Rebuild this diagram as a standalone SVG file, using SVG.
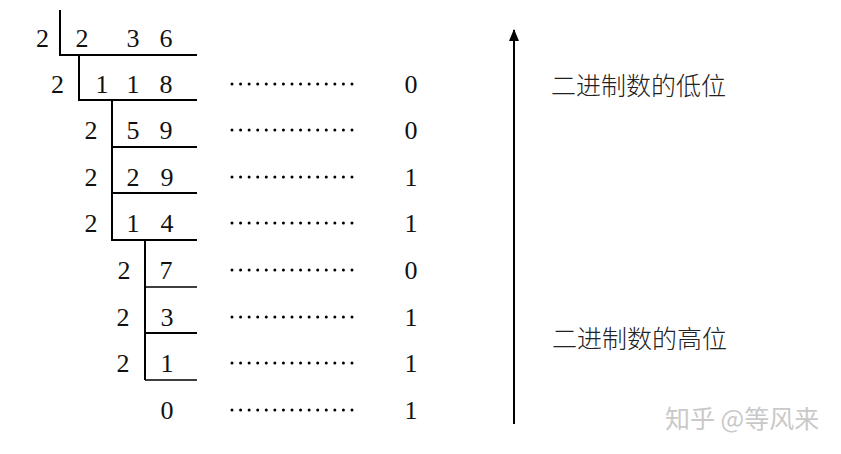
<svg xmlns="http://www.w3.org/2000/svg" width="841" height="454" viewBox="0 0 841 454">
<style>
.d{font-family:"Liberation Serif","DejaVu Serif",serif;font-size:26px;fill:#111;text-anchor:middle}
.c{font-family:"Noto Sans CJK SC",sans-serif;font-size:25px;fill:#222;font-weight:300}
.w{font-family:"Noto Sans CJK SC",sans-serif;font-size:25px;fill:#c9c9c9}
.ln{stroke:#000;stroke-width:2;fill:none}
.th{stroke:#000;stroke-width:1.4;fill:none}
.dots{stroke:#000;stroke-width:3;stroke-linecap:round;stroke-dasharray:0 8.57;fill:none}
</style>
<defs>
<marker id="ah" markerWidth="12" markerHeight="10" refX="11" refY="5" orient="auto" markerUnits="userSpaceOnUse" viewBox="0 0 12 10">
<path d="M0,0 L12,5 L0,10 Z" fill="#000"/>
</marker>
</defs>
<rect width="841" height="454" fill="#fff"/>
<g id="division-lines">
<path class="ln" d="M60,10 V55 H197 M79,55 V100 H197 M112,100 V240 H197 M112,147 H197 M112,193 H197 M145,240 V380 M145,333 H197"/>
<path class="th" d="M145,287 H197 M145,380 H197"/>
</g>
<g id="row1"><text class="d" x="42.5" y="47">2</text><text class="d" x="82" y="47">2</text><text class="d" x="133" y="47">3</text><text class="d" x="166" y="47">6</text></g>
<g id="row2"><text class="d" x="57.5" y="93">2</text><text class="d" x="102" y="93">1</text><text class="d" x="133" y="93">1</text><text class="d" x="166" y="93">8</text></g>
<g id="row3"><text class="d" x="91" y="139">2</text><text class="d" x="133" y="139">5</text><text class="d" x="166" y="139">9</text></g>
<g id="row4"><text class="d" x="91" y="186">2</text><text class="d" x="133" y="186">2</text><text class="d" x="167" y="186">9</text></g>
<g id="row5"><text class="d" x="91" y="232">2</text><text class="d" x="133" y="232">1</text><text class="d" x="167" y="232">4</text></g>
<g id="row6"><text class="d" x="124" y="279">2</text><text class="d" x="166" y="279">7</text></g>
<g id="row7"><text class="d" x="123" y="326">2</text><text class="d" x="167" y="326">3</text></g>
<g id="row8"><text class="d" x="123" y="372">2</text><text class="d" x="167" y="372">1</text></g>
<g id="row9"><text class="d" x="167" y="419">0</text></g>
<g id="remainders">
<path class="dots" d="M232,84 H353 M232,130 H353 M232,177 H353 M232,223 H353 M232,270 H353 M232,317 H353 M232,363 H353 M232,410 H353"/>
<text class="d" x="411" y="93">0</text>
<text class="d" x="411" y="139">0</text>
<text class="d" x="411" y="186">1</text>
<text class="d" x="411" y="232">1</text>
<text class="d" x="411" y="279">0</text>
<text class="d" x="411" y="326">1</text>
<text class="d" x="411" y="372">1</text>
<text class="d" x="411" y="419">1</text>
</g>
<g id="connectors">
<line class="ln" x1="514" y1="424" x2="514" y2="30" marker-end="url(#ah)"/>
</g>
<g id="label-low"><text class="c" x="551" y="95">二进制数的低位</text></g>
<g id="label-high"><text class="c" x="552" y="348">二进制数的高位</text></g>
<g id="watermark"><text class="w" x="665" y="428">知乎 @等风来</text></g>
</svg>
